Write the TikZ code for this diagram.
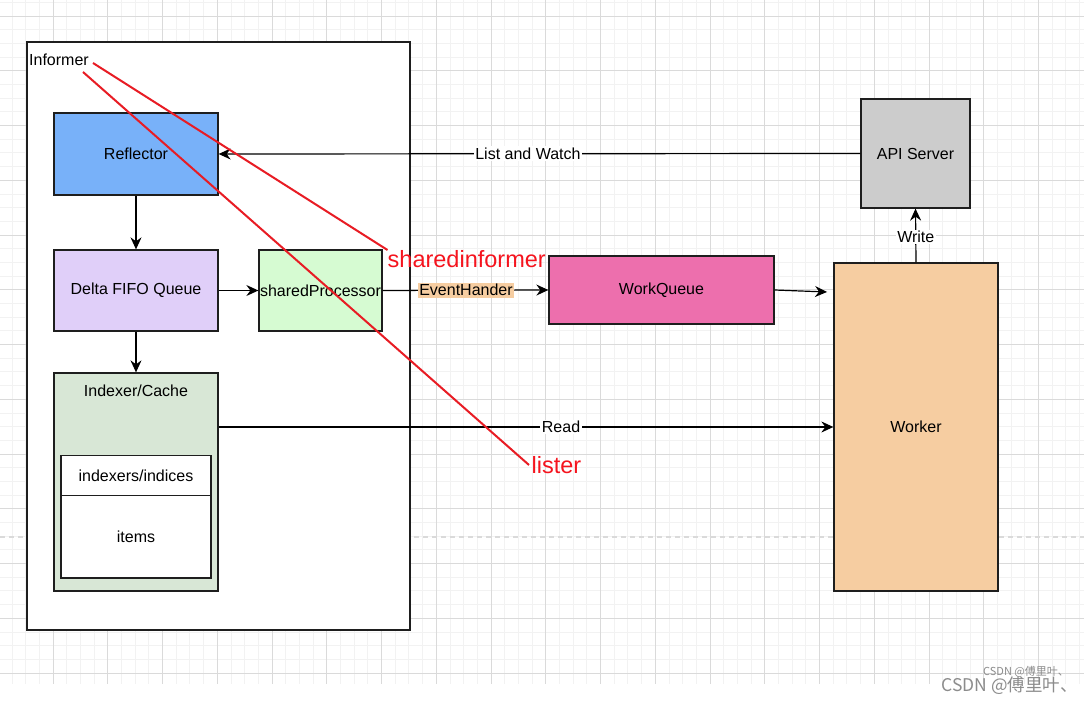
\documentclass[tikz,border=0pt]{standalone}
\usepackage{fontspec}
\setmainfont{Liberation Sans}
\newfontfamily\cjkfont{Noto Sans CJK SC}
\usetikzlibrary{arrows.meta,calc}
\definecolor{cReflector}{RGB}{120,177,249}
\definecolor{cDelta}{RGB}{224,207,249}
\definecolor{cShared}{RGB}{214,251,210}
\definecolor{cCache}{RGB}{216,231,214}
\definecolor{cWQ}{RGB}{237,111,173}
\definecolor{cAPI}{RGB}{204,204,204}
\definecolor{cWorker}{RGB}{246,205,161}
\definecolor{cRed}{RGB}{232,28,36}
\definecolor{cRedText}{RGB}{245,20,30}
\definecolor{cMinor}{RGB}{242,242,242}
\definecolor{cMajor}{RGB}{218,218,218}
\definecolor{cBorder}{RGB}{30,30,30}
\tikzset{
  box/.style={draw=cBorder, line width=1.3pt, rectangle, inner sep=0pt, font=\fontsize{16}{19}\selectfont, text=black},
  conn/.style={draw=black, line width=1.2pt, -{Stealth[length=12pt,width=11pt,inset=4pt]}},
  elabel/.style={fill=white, inner sep=1.5pt, font=\fontsize{16}{19}\selectfont, text=black},
  redline/.style={draw=cRed, line width=2pt},
  redlabel/.style={inner sep=0pt, text=cRedText, font=\fontsize{23.5}{27}\selectfont},
  minorgrid/.style={draw=cMinor, line width=0.8pt},
  majorgrid/.style={draw=cMajor, line width=0.9pt},
  pagebreak/.style={draw=cMajor, line width=1.2pt, dash pattern=on 5pt off 4pt},
  wmark/.style={inner sep=0pt, text=black!45, font=\cjkfont}
}
\begin{document}
\begin{tikzpicture}[x=1pt,y=-1pt]
\useasboundingbox (0,0) rectangle (1084,703);
\fill[white] (0,0) rectangle (1084,703);
% background grid
\begin{scope}
\clip (0,0) rectangle (1084,684);
\foreach \i in {0,...,81} {
  \draw[minorgrid] ({-1.75+\i*13.6875},0) -- ({-1.75+\i*13.6875},684);
}
\foreach \j in {0,...,53} {
  \draw[minorgrid] (0,{-38.75+\j*13.6875}) -- (1084,{-38.75+\j*13.6875});
}
\foreach \i in {0,...,20} {
  \draw[majorgrid] ({-1.75+\i*54.75},0) -- ({-1.75+\i*54.75},684);
}
\foreach \j in {0,...,13} {
  \draw[majorgrid] (0,{-38.75+\j*54.75}) -- (1084,{-38.75+\j*54.75});
}
\end{scope}
\draw[pagebreak] (0,537) -- (1084,537);

% Informer container
\node[box, fill=white, minimum width=383pt, minimum height=588pt] (informer) at (218.5,336) {};
\node[anchor=west, inner sep=0pt, font=\fontsize{16}{19}\selectfont] (informerlbl) at (29,60) {Informer};

% boxes
\node[box, fill=cReflector, minimum width=164pt, minimum height=82pt] (reflector) at (136,154) {Reflector};
\node[box, fill=cDelta, minimum width=164pt, minimum height=81pt] (delta) at (136,290.5) {Delta FIFO Queue};
\node[box, fill=cShared, minimum width=123pt, minimum height=81pt] (shared) at (320.5,290.5) {sharedProcessor};
\node[box, fill=cCache, minimum width=164pt, minimum height=218pt] (cache) at (136,482) {};
\node[inner sep=0pt, font=\fontsize{16}{19}\selectfont] (cachelbl) at (136,391) {Indexer/Cache};
\node[box, fill=white, minimum width=150pt, minimum height=40pt] (indices) at (136,475.5) {indexers/indices};
\node[box, fill=white, minimum width=150pt, minimum height=82.5pt] (items) at (136,536.75) {items};
\node[box, fill=cWQ, minimum width=225pt, minimum height=68pt] (wq) at (661.5,290) {WorkQueue};
\node[box, fill=cAPI, minimum width=109pt, minimum height=109pt] (api) at (915.5,153.5) {API Server};
\node[box, fill=cWorker, minimum width=164pt, minimum height=328pt] (worker) at (916,427) {Worker};

% connectors
\draw[conn] (api.west) -- node[elabel, pos=0.518] (lw) {List and Watch} (reflector.east);
\draw[conn] (reflector.south) -- (delta.north);
\draw[conn] (delta.south) -- (cache.north);
\draw[conn] (delta.east) -- (shared.west);
\draw[conn] (shared.east) -- node[elabel, fill=cWorker, pos=0.503] (eh) {EventHander} (wq.west);
\coordinate (wqend) at (827,292);
\draw[conn] (wq.east) -- (wqend);
\draw[conn] (cache.east |- worker.west) -- node[elabel, pos=0.557] (rd) {Read} (worker.west);
\draw[conn] (worker.north) -- node[elabel, pos=0.47] (wr) {Write} (api.south);

% red annotations
\coordinate (r1) at (93,63);
\coordinate (r2) at (83,72);
\node[redlabel, anchor=north west] (si) at (387.5,250) {sharedinformer};
\node[redlabel, anchor=west, inner xsep=2.5pt] (lst) at (529,465) {lister};
\draw[redline] (r1) -- (si.north west);
\draw[redline] (r2) -- (lst.west);

% watermark
\node[wmark, anchor=east, font=\cjkfont\fontsize{11}{13}\selectfont] (wm1) at (1069,672) {CSDN @傅里叶、};
\node[wmark, anchor=east, font=\cjkfont\fontsize{17.5}{20}\selectfont] (wm2) at (1078,686) {CSDN @傅里叶、};
\end{tikzpicture}
\end{document}
